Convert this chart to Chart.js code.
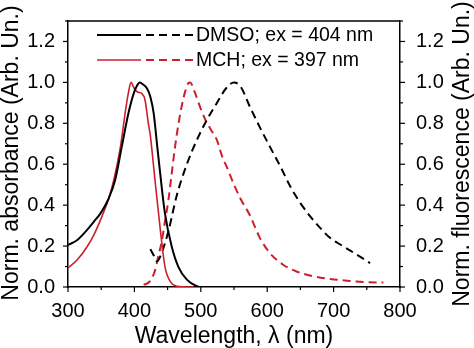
<!DOCTYPE html>
<html><head><meta charset="utf-8">
<script src="https://cdn.jsdelivr.net/npm/chart.js@4/dist/chart.umd.min.js"></script>
<style>html,body{margin:0;padding:0;background:#fff}#wrap{width:474px;height:348px}</style>
</head><body><div id="wrap"><canvas id="c" width="474" height="348"></canvas></div>
<script>
// ---- data ----
const xTickValues = [300, 400, 500, 600, 700, 800];
const yTickValues = [0, 0.2, 0.4, 0.6, 0.8, 1.0, 1.2];
const legendLabels = ['DMSO; ex = 404 nm', 'MCH; ex = 397 nm'];
const xTitle = 'Wavelength, \u03bb (nm)';
const yTitle = 'Norm. absorbance (Arb. Un.)';
const y2Title = 'Norm. fluorescence (Arb. Un.)';

const dmsoAbsWl  = [300, 314, 329, 339, 349, 361, 371, 381, 391, 399, 404, 408, 413, 419, 424, 429, 434, 439, 446, 456, 466, 479, 494, 498];
const dmsoAbsVal = [0.205, 0.23, 0.28, 0.32, 0.36, 0.43, 0.523, 0.686, 0.849, 0.946, 0.985, 1.0, 0.99, 0.97, 0.93, 0.85, 0.70, 0.55, 0.36, 0.20, 0.10, 0.036, 0.004, 0.0];

const mchAbsWl  = [300, 314, 329, 339, 349, 361, 369, 379, 386, 391, 395, 399, 404, 411, 416, 421, 424, 431, 439, 446, 454, 464, 490];
const mchAbsVal = [0.093, 0.133, 0.198, 0.255, 0.328, 0.43, 0.523, 0.686, 0.849, 0.95, 1.0, 0.975, 0.954, 0.946, 0.914, 0.80, 0.74, 0.523, 0.28, 0.10, 0.027, 0.004, 0.0];

const dmsoFlWl  = [424, 429, 434, 439, 451, 464, 479, 494, 509, 524, 539, 550, 560, 574, 589, 604, 620, 635, 650, 665, 680, 695, 715, 735, 755];
const dmsoFlVal = [0.185, 0.155, 0.125, 0.15, 0.27, 0.45, 0.60, 0.718, 0.816, 0.898, 0.975, 1.0, 0.979, 0.88, 0.78, 0.686, 0.588, 0.49, 0.41, 0.344, 0.288, 0.239, 0.198, 0.158, 0.117];

const mchFlWl  = [414, 424, 431, 436, 441, 446, 451, 456, 461, 466, 471, 476, 481, 484, 490, 500, 507, 515, 524, 532, 540, 550, 560, 574, 589, 604, 624, 644, 670, 695, 720, 745, 775];
const mchFlVal = [0.01, 0.03, 0.08, 0.15, 0.22, 0.32, 0.42, 0.55, 0.68, 0.79, 0.88, 0.95, 0.995, 1.0, 0.96, 0.87, 0.816, 0.77, 0.72, 0.64, 0.58, 0.50, 0.43, 0.35, 0.24, 0.166, 0.109, 0.076, 0.052, 0.039, 0.031, 0.024, 0.022];

// ---- styling ----
const BLACK = '#000000';
const RED = '#cc1f2c';
const FONT = '"Liberation Sans", Arial, Helvetica, sans-serif';

function pts(xs, ys) { return xs.map((x, i) => ({x: x, y: ys[i]})); }

const frame = {
  id: 'frame',
  afterDraw(chart) {
    const {ctx, chartArea: a, scales} = chart;
    ctx.save();
    ctx.strokeStyle = '#000';
    ctx.lineWidth = 1.5;
    // top border
    ctx.beginPath(); ctx.moveTo(a.left, a.top); ctx.lineTo(a.right, a.top); ctx.stroke();
    // y ticks (major every 0.2, minor every 0.1), outward
    ctx.lineWidth = 1.2;
    for (let i = 0; i <= 13; i++) {
      const py = scales.y.getPixelForValue(i / 10);
      const len = i % 2 === 0 ? 5 : 3;
      ctx.beginPath(); ctx.moveTo(a.left, py); ctx.lineTo(a.left - len, py); ctx.stroke();
      ctx.beginPath(); ctx.moveTo(a.right, py); ctx.lineTo(a.right + len, py); ctx.stroke();
    }
    for (let w = 300; w <= 800; w += 50) {
      const px = scales.x.getPixelForValue(w);
      const len = w % 100 === 0 ? 5 : 3;
      ctx.beginPath(); ctx.moveTo(px, a.bottom); ctx.lineTo(px, a.bottom + len); ctx.stroke();
    }
    // rotated y titles (both read bottom-to-top)
    ctx.fillStyle = '#000';
    ctx.font = '23px ' + FONT;
    ctx.textAlign = 'center';
    ctx.textBaseline = 'alphabetic';
    ctx.save(); ctx.translate(18, 153); ctx.rotate(-Math.PI / 2); ctx.fillText(yTitle, 0, 0); ctx.restore();
    ctx.save(); ctx.translate(469, 154); ctx.rotate(-Math.PI / 2); ctx.fillText(y2Title, 0, 0); ctx.restore();
    // legend: solid sample + dashed sample + label
    const rows = [[BLACK, legendLabels[0], 35, 2], [RED, legendLabels[1], 60, 1.6]];
    ctx.font = '19.5px ' + FONT;
    ctx.textAlign = 'left';
    ctx.textBaseline = 'middle';
    rows.forEach(([col, label, y, lw]) => {
      ctx.strokeStyle = col;
      ctx.lineWidth = lw;
      ctx.setLineDash([]);
      ctx.beginPath(); ctx.moveTo(97, y); ctx.lineTo(141, y); ctx.stroke();
      ctx.lineWidth = 2;
      ctx.setLineDash([8, 5]);
      ctx.beginPath(); ctx.moveTo(146, y); ctx.lineTo(193, y); ctx.stroke();
      ctx.setLineDash([]);
      ctx.fillStyle = '#000';
      ctx.fillText(label, 196, y + 1);
    });
    ctx.restore();
  }
};

new Chart(document.getElementById('c'), {
  type: 'line',
  data: {
    datasets: [
      {label: 'DMSO abs', data: pts(dmsoAbsWl, dmsoAbsVal), borderColor: BLACK, borderWidth: 2, yAxisID: 'y'},
      {label: 'MCH abs', data: pts(mchAbsWl, mchAbsVal), borderColor: RED, borderWidth: 1.6, yAxisID: 'y'},
      {label: 'DMSO fl', data: pts(dmsoFlWl, dmsoFlVal), borderColor: BLACK, borderWidth: 2, borderDash: [8, 5], yAxisID: 'y2'},
      {label: 'MCH fl', data: pts(mchFlWl, mchFlVal), borderColor: RED, borderWidth: 2, borderDash: [8, 5], yAxisID: 'y2'}
    ]
  },
  options: {
    responsive: false,
    animation: false,
    events: [],
    layout: {padding: {top: 21, left: 0, right: 0, bottom: 0}},
    elements: {point: {radius: 0}, line: {tension: 0.4, cubicInterpolationMode: 'monotone', fill: false}},
    plugins: {legend: {display: false}, tooltip: {enabled: false}},
    scales: {
      x: {
        type: 'linear', min: 300, max: 800,
        afterBuildTicks: s => { s.ticks = xTickValues.map(v => ({value: v})); },
        ticks: {color: '#000', font: {size: 20, family: FONT}, padding: 4, maxRotation: 0},
        grid: {display: false},
        border: {display: true, color: '#000', width: 1.5},
        title: {display: true, text: xTitle, color: '#000', font: {size: 23, family: FONT}, padding: {top: 0, bottom: -2}},
        afterFit: s => { s.height = 61; }
      },
      y: {
        type: 'linear', position: 'left', min: 0, max: 1.3,
        afterBuildTicks: s => { s.ticks = yTickValues.map(v => ({value: v})); },
        ticks: {color: '#000', font: {size: 20, family: FONT}, padding: 5, callback: v => v.toFixed(1)},
        grid: {display: false},
        border: {display: true, color: '#000', width: 1.5},
        afterFit: s => { s.width = 68; }
      },
      y2: {
        type: 'linear', position: 'right', min: 0, max: 1.3,
        afterBuildTicks: s => { s.ticks = yTickValues.map(v => ({value: v})); },
        ticks: {color: '#000', font: {size: 20, family: FONT}, padding: 8, callback: v => v.toFixed(1)},
        grid: {display: false},
        border: {display: true, color: '#000', width: 1.5},
        afterFit: s => { s.width = 74; }
      }
    }
  },
  plugins: [frame]
});
</script>
</body></html>
